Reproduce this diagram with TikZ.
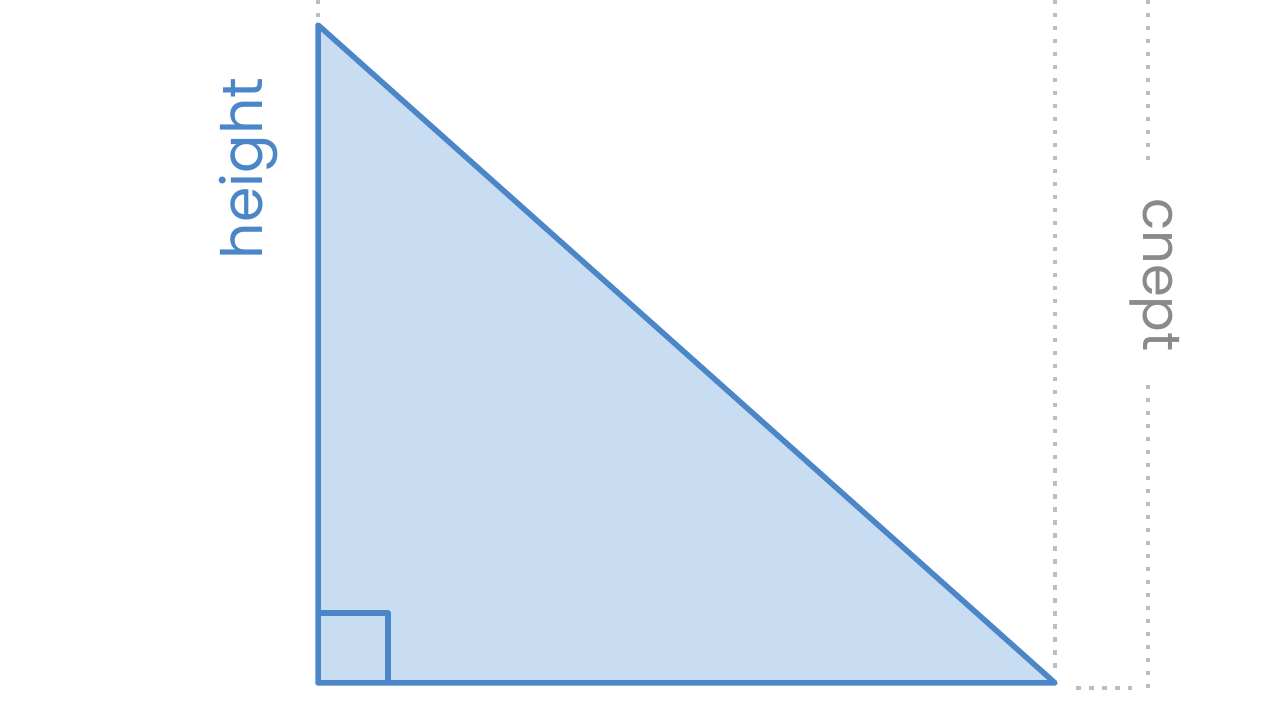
\documentclass[tikz,border=0pt]{standalone}
\usepackage{fontspec}
\setmainfont{Poppins}
\definecolor{triblue}{HTML}{4A86C8}
\definecolor{trifill}{HTML}{C9DDF2}
\definecolor{dotgray}{HTML}{BDBDBD}
\definecolor{labgray}{HTML}{8A8A8A}
\begin{document}
\begin{tikzpicture}[x=1cm,y=1cm,
  edge/.style={draw=triblue,line width=0.055cm,line join=round},
  dotline/.style={draw=dotgray,line width=0.045cm,dash pattern=on 0.045cm off 0.085cm},
  hlabel/.style={text=triblue,font=\fontsize{16.2pt}{19pt}\selectfont,inner sep=0pt},
  glabel/.style={text=labgray,font=\fontsize{15pt}{17pt}\selectfont,inner sep=0pt}]
\useasboundingbox (0,0) rectangle (12.8,7.2);
\fill[white] (0,0) rectangle (12.8,7.2);
% vertices
\coordinate (A) at (3.18,6.95);
\coordinate (B) at (3.18,0.37);
\coordinate (C) at (10.55,0.37);
% dotted guides
\coordinate (d1a) at (3.18,7.2);
\coordinate (d1b) at (3.18,7.02);
\coordinate (d2a) at (10.55,7.2);
\coordinate (d2b) at (10.55,0.45);
\coordinate (d3a) at (11.48,7.2);
\coordinate (d3b) at (11.48,5.58);
\coordinate (d4a) at (11.48,3.35);
\coordinate (d4b) at (11.48,0.32);
\coordinate (d5a) at (10.76,0.32);
\coordinate (d5b) at (11.32,0.32);
\draw[dotline] (d1a) -- (d1b);
\draw[dotline] (d2a) -- (d2b);
\draw[dotline] (d3a) -- (d3b);
\draw[dotline] (d4a) -- (d4b);
\draw[dotline] (d5a) -- (d5b);
% triangle
\fill[trifill] (A) -- (B) -- (C) -- cycle;
\coordinate (R1) at (3.18,1.07);
\coordinate (R2) at (3.88,1.07);
\coordinate (R3) at (3.88,0.37);
\draw[edge] (R1) -- (R2) -- (R3);
\draw[edge] (A) -- (B) -- (C) -- cycle;
% labels
\node[hlabel,rotate=90,anchor=base] (hl) at (2.62,5.515) {height};
\node[glabel,rotate=-90,anchor=base] (gl) at (11.43,4.45) {cnept};
\end{tikzpicture}
\end{document}
